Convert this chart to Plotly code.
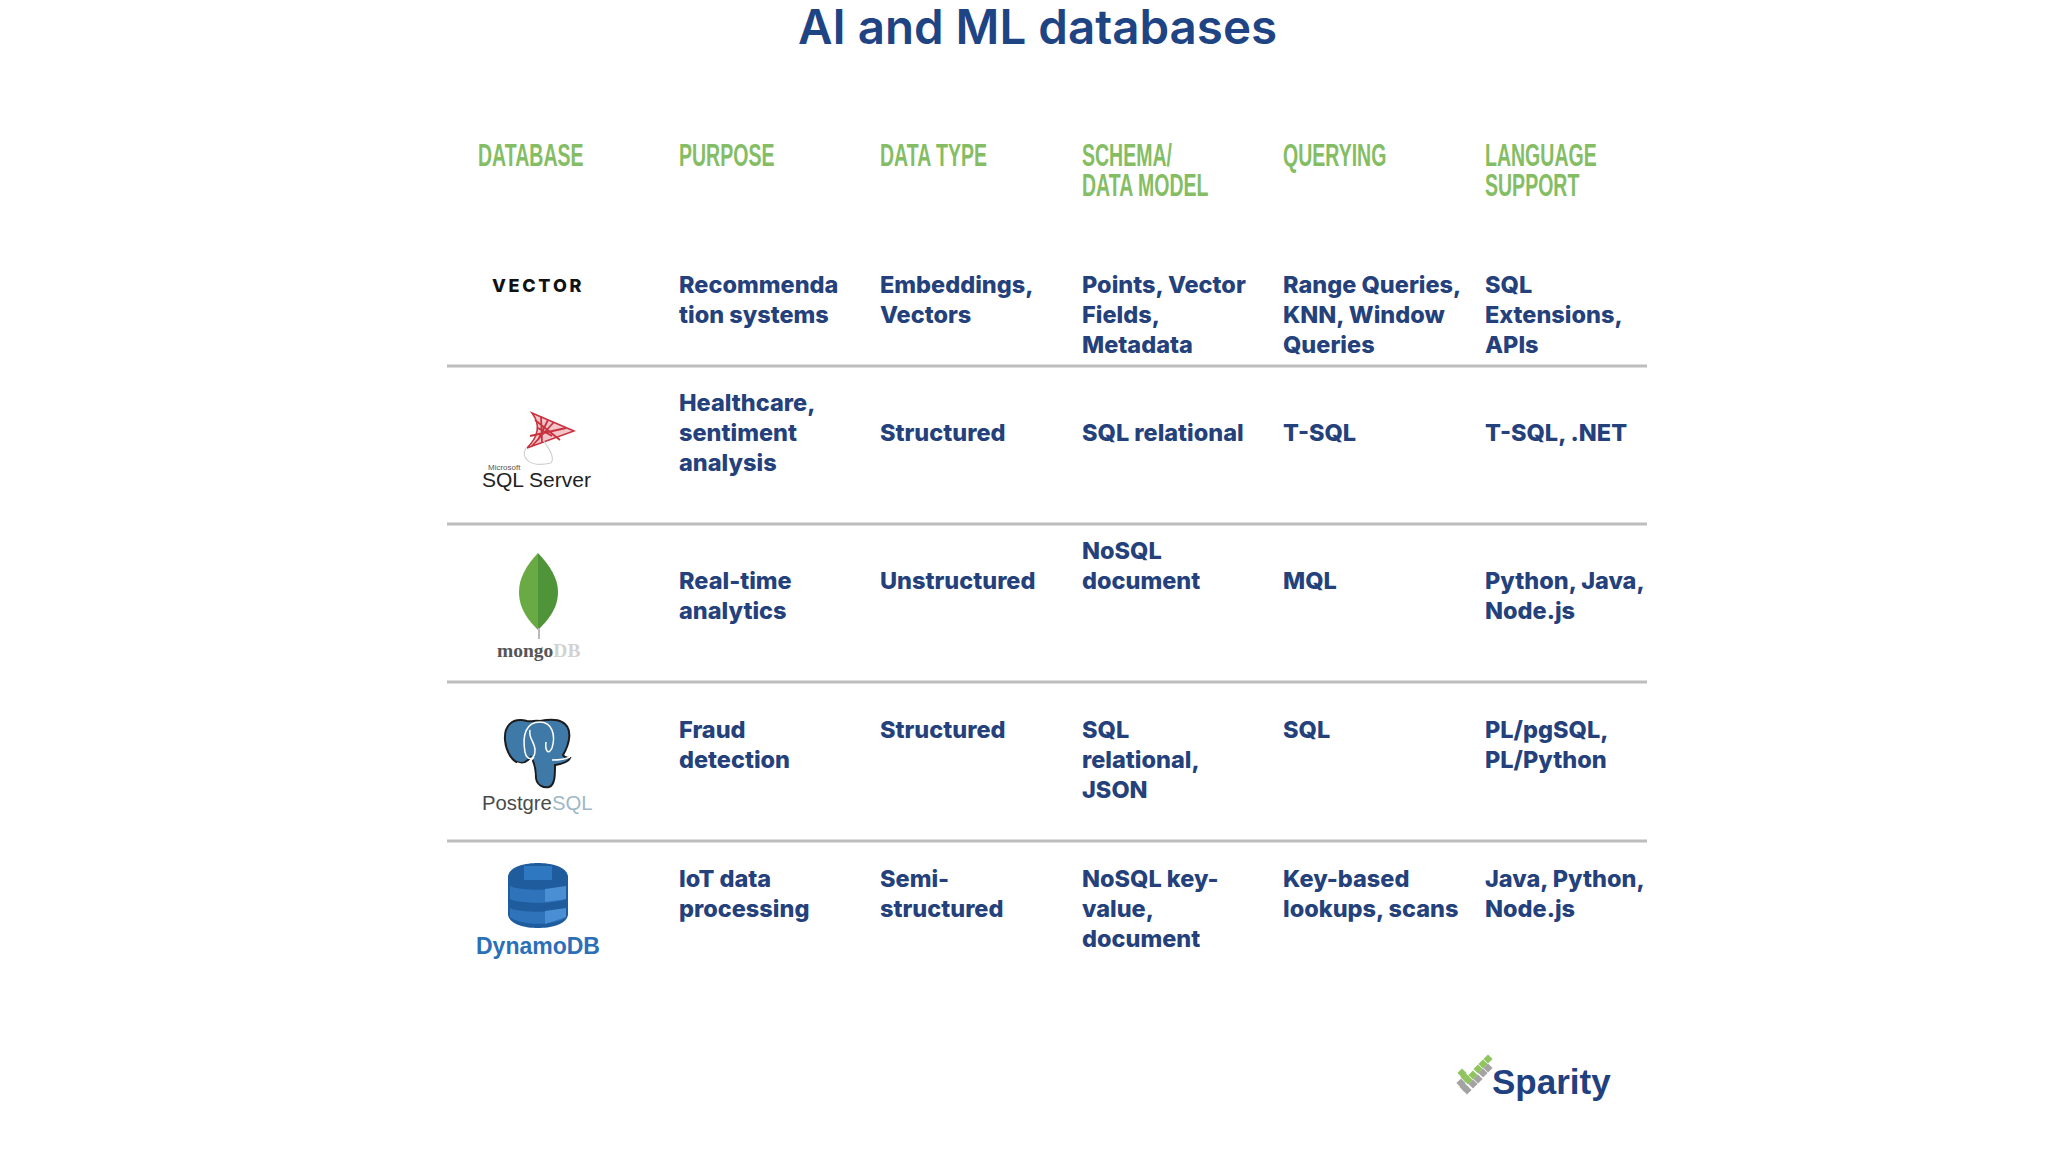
import plotly.graph_objects as go

title = "AI and ML databases"
headers = ["DATABASE", "PURPOSE", "DATA TYPE", "SCHEMA/<br>DATA MODEL", "QUERYING", "LANGUAGE<br>SUPPORT"]
purpose = ["Recommenda<br>tion systems", "Healthcare,<br>sentiment<br>analysis", "Real-time<br>analytics",
           "Fraud<br>detection", "IoT data<br>processing"]
data_type = ["Embeddings,<br>Vectors", "Structured", "Unstructured", "Structured", "Semi-<br>structured"]
schema = ["Points, Vector<br>Fields,<br>Metadata", "SQL relational", "NoSQL<br>document",
          "SQL<br>relational,<br>JSON", "NoSQL key-<br>value,<br>document"]
querying = ["Range Queries,<br>KNN, Window<br>Queries", "T-SQL", "MQL", "SQL", "Key-based<br>lookups, scans"]
language = ["SQL<br>Extensions,<br>APIs", "T-SQL, .NET", "Python, Java,<br>Node.js", "PL/pgSQL,<br>PL/Python",
            "Java, Python,<br>Node.js"]

# layout, in page pixels
col_x = [476, 677, 878, 1080, 1281, 1483]
row_y = [284, 432, 580, 729, 878]
rule_y = [366, 524, 682, 841]
lifted = {(0, 1): 1, (2, 2): 1}  # cells (column, row) that start a line above the row
LINE = 30
BLUE = "#24417c"
GREEN = "#84bd63"

fig = go.Figure()


def label(text, x, y, size, color, family="Inter", weight=400, anchor="left"):
    fig.add_annotation(x=x, y=y, text=text, showarrow=False, xanchor=anchor, yanchor="middle", align=anchor,
                       font=dict(family=family, size=size, color=color, weight=weight))


def blob(path, fill, line="rgba(0,0,0,0)", width=0):
    fig.add_shape(type="path", path=path, fillcolor=fill, line=dict(color=line, width=width), layer="above")


def stroke(path, color, width):
    fig.add_shape(type="path", path=path, line=dict(color=color, width=width), layer="above")


# title and headers
label(title, 1037, 26, 47.5, "#1f4484", weight=600, anchor="center")
for x, h in zip(col_x, headers):
    for i, part in enumerate(h.split("<br>")):
        label(part, x, 155 + LINE * i, 32, GREEN, family="Liberation Sans", weight=700)

# table body
for c, col in enumerate([purpose, data_type, schema, querying, language]):
    for r, text in enumerate(col):
        first = row_y[r] - LINE * lifted.get((c, r), 0)
        for i, part in enumerate(text.split("<br>")):
            label(part, col_x[c + 1], first + LINE * i, 23.5, BLUE, weight=800)

for y in rule_y:
    fig.add_shape(type="line", x0=447, x1=1647, y0=y, y1=y, line=dict(color="#bdbdbd", width=3))

# Vector logo
label("V\u2009E\u2009C\u2009T\u2009O\u2009R", 537, 285, 18, "#111111", weight=800, anchor="center")

# SQL Server logo
blob("M 532,413 L 574,431 L 527,448 C 538,437 541,425 532,413 Z", "#f3c4c8", "#c8313e", 1.5)
stroke("M 535,420 L 560,440 M 541,416 L 542,442 M 554,422 L 532,446 M 566,428 L 530,436 "
       "M 538,428 L 552,436 M 548,420 L 538,440", "#c8313e", 1.8)
stroke("M 526,448 C 520,458 530,468 551,463 M 543,440 C 550,450 555,458 551,463", "#cfcfcf", 1.2)
label("Microsoft", 504, 467, 8, "#555555", family="Liberation Sans", anchor="center")
label("SQL Server", 536, 479, 21, "#222222", family="Liberation Sans", anchor="center")

# MongoDB logo
blob("M 538,553 C 526,566 519,578 519,592 C 519,610 530,622 538,630 L 538,553 Z", "#6aaa45")
blob("M 538,553 C 550,566 558,578 558,592 C 558,610 546,622 538,630 L 538,553 Z", "#4f9438")
stroke("M 539,628 L 539,639", "#b9b9b9", 2)
label("mongo<span style='color:#d2d2d2'>DB</span>", 538, 650, 19.5, "#555555",
      family="Liberation Serif", weight=700, anchor="center")

# PostgreSQL logo
blob("M 527,721 C 511,717 504,727 505,740 C 506,752 513,764 522,763 C 526,763 528,760 531,757 "
     "C 534,762 536,770 536,778 C 537,786 544,788 549,787 C 555,785 555,775 555,765 "
     "C 560,764 568,763 570,758 C 566,758 564,757 563,755 C 569,745 574,728 562,722 "
     "C 555,718 545,720 540,721 C 535,720 532,722 527,721 Z", "#3f79a8", "#1c1c1c", 2)
stroke("M 525,752 C 522,735 526,722 540,722 C 552,722 556,735 552,748 "
       "M 525,752 C 527,762 535,760 535,750 C 535,742 528,738 530,730 "
       "M 552,748 C 548,756 545,750 546,742", "#ffffff", 1.5)
stroke("M 517,763 C 523,766 530,763 534,757 M 552,760 C 558,760 566,759 570,757", "#ffffff", 1.5)
label("Postgre<span style='color:#9fb8c6'>SQL</span>", 537, 803, 20.3, "#4a4a4a",
      family="Liberation Sans", anchor="center")

# DynamoDB logo
blob("M 508,876 C 510,866 526,863 538,863 C 550,863 566,866 568,876 L 568,915 "
     "C 566,925 550,928 538,928 C 526,928 510,925 508,915 Z", "#1f5c9e")
blob("M 524,866 L 552,866 L 552,880 L 524,880 Z", "#2e78c2")
blob("M 510,886 C 520,891 556,891 566,886 L 566,899 C 556,904 520,904 510,899 Z", "#2f74ba")
blob("M 510,908 C 520,913 556,913 566,908 L 566,917 C 556,926 520,926 510,917 Z", "#2f74ba")
blob("M 545,889 L 566,886 L 566,899 L 545,902 Z", "#4a8fd4")
blob("M 545,911 L 566,908 L 566,917 L 545,924 Z", "#4a8fd4")
label("DynamoDB", 538, 946, 23, "#2b6fb8", family="Liberation Sans", weight=700, anchor="center")

# Sparity logo
green_x = [1488, 1483, 1478, 1473, 1468, 1462, 1465]
green_y = [1059, 1064, 1069, 1075, 1080, 1073, 1077]
grey_x = [1488, 1483, 1478, 1473, 1467, 1461, 1464]
grey_y = [1068, 1073, 1079, 1084, 1090, 1083, 1087]
fig.add_trace(go.Scatter(x=green_x, y=green_y, mode="markers", hoverinfo="skip",
                         marker=dict(symbol="diamond", size=7, color="#8fc45f")))
fig.add_trace(go.Scatter(x=grey_x, y=grey_y, mode="markers", hoverinfo="skip",
                         marker=dict(symbol="diamond", size=7, color="#a3a3a3")))
label("Sparity", 1551, 1081, 35, "#1f4180", family="Liberation Sans", weight=700, anchor="center")

fig.update_layout(
    width=2048, height=1152, showlegend=False,
    margin=dict(l=0, r=0, t=0, b=0),
    paper_bgcolor="#ffffff", plot_bgcolor="#ffffff",
    xaxis=dict(range=[0, 2048], visible=False),
    yaxis=dict(range=[1152, 0], visible=False),
)

# no narrow font is installed, so the green headers get squeezed sideways
squeeze = """
document.body.style.margin = '0';
document.querySelectorAll('.annotation-text').forEach(function (t) {
  if (t.style.fill.replace(/ /g, '') === 'rgb(132,189,99)') {
    t.style.transformBox = 'fill-box';
    t.style.transformOrigin = 'left center';
    t.style.transform = 'scaleX(0.61)';
  }
});
"""
fig.write_html("out.html", post_script=squeeze, config=dict(displayModeBar=False))
